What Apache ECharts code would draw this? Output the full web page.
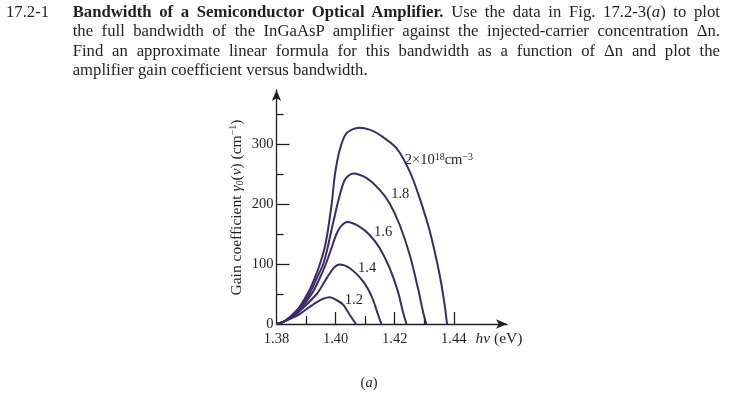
<!DOCTYPE html>
<html>
<head>
<meta charset="utf-8">
<script src="https://cdn.jsdelivr.net/npm/echarts@6/dist/echarts.min.js"></script>
<style>
  html, body { margin:0; padding:0; background:#fff; }
  #c { position:absolute; left:0; top:0; width:738px; height:395px; }
  #txt { position:absolute; left:0; top:2px; width:738px; font-family:'Liberation Serif', 'Times New Roman', serif;
         font-size:16.7px; line-height:19.3px; color:#231f20; }
  .ln { position:relative; margin-left:72.7px; width:647.3px; white-space:nowrap; text-align:justify; text-align-last:justify; }
  .num { position:absolute; left:-66.7px; top:0; }
</style>
</head>
<body>
<div id="c"></div>
<div id="txt">
  <div class="ln"><span class="num">17.2-1</span><b>Bandwidth of a Semiconductor Optical Amplifier.</b> Use the data in Fig. 17.2-3(<i>a</i>) to plot</div>
  <div class="ln">the full bandwidth of the InGaAsP amplifier against the injected-carrier concentration Δn.</div>
  <div class="ln">Find an approximate linear formula for this bandwidth as a function of Δn and plot the</div>
  <div class="ln" style="text-align-last:left">amplifier gain coefficient versus bandwidth.</div>
</div>
<script>
// photon energy hν (eV), gain coefficient γ0 (cm^-1), one array per carrier concentration
const curve20 = [[1.380,0],[1.3825,4],[1.3857,17],[1.388,30],[1.391,55],[1.3932,80],[1.3947,100],[1.3962,125],[1.3972,150],[1.3981,180],[1.3988,205],[1.3998,250],[1.4014,290],[1.4037,318],[1.408,327],[1.4115,324],[1.415,315],[1.4206,293],[1.4251,254],[1.4285,209],[1.4319,154],[1.4352,82],[1.4369,32],[1.4377,0]];
const curve18 = [[1.380,0],[1.3825,4],[1.3857,16],[1.388,28],[1.3911,50],[1.3935,75],[1.3958,100],[1.3972,125],[1.3983,150],[1.3997,180],[1.4009,205],[1.4031,240],[1.4059,251],[1.4105,243],[1.415,223],[1.4183,201],[1.4217,165],[1.4251,115],[1.4279,59],[1.4296,20],[1.4307,0]];
const curve16 = [[1.380,0],[1.3825,4],[1.3857,15],[1.388,25],[1.3919,50],[1.3945,75],[1.3967,100],[1.3985,125],[1.4003,150],[1.402,164],[1.404,170],[1.4082,162],[1.4116,148],[1.415,126],[1.4183,93],[1.4211,54],[1.4228,20],[1.424,0]];
const curve14 = [[1.380,0],[1.3825,4],[1.3857,13],[1.388,22],[1.3936,50],[1.3962,70],[1.3981,85],[1.3995,94],[1.4012,99],[1.4048,93],[1.4093,71],[1.4122,46],[1.4144,15],[1.4155,0]];
const curve12 = [[1.380,0],[1.3825,4],[1.3857,11],[1.388,17],[1.3902,25],[1.3935,36],[1.3958,42],[1.398,44.5],[1.4003,40],[1.4026,32],[1.4048,15],[1.4069,0]];
const curveNames = ['2.0', '1.8', '1.6', '1.4', '1.2'];
const labelPos = [[1.4234,273],[1.4188,216],[1.4130,153],[1.4076,93],[1.4031,39]];
const labelTexts = ['2×10{p|18}cm{p|−3}', '1.8', '1.6', '1.4', '1.2'];
const xLabelVals = [1.38, 1.40, 1.42, 1.44];
const xMajorTicks = [1.40, 1.42, 1.44];
const xMinorTicks = [1.39, 1.41, 1.43];
const yLabelVals = [0, 100, 200, 300];
const yMajorTicks = [100, 200, 300];
const yMinorTicks = [50, 150, 250, 350];

const FONT = 'Liberation Serif';
const INK = '#231f20';
const LINE = '#3b2b6c';
const chart = echarts.init(document.getElementById('c'), null, {renderer: 'canvas'});
const curves = [curve20, curve18, curve16, curve14, curve12];

const axisBase = { type: 'value', splitLine: {show: false} };
const option = {
  animation: false,
  grid: {left: 276.5, right: 231, top: 90, bottom: 71, containLabel: false},
  xAxis: [
    Object.assign({}, axisBase, {
      min: 1.38, max: 1.458, position: 'bottom',
      axisLine: {show: true, lineStyle: {color: INK, width: 1.3}, symbol: ['none', 'arrow'], symbolSize: [7, 11]},
      axisTick: {show: true, inside: true, length: 12, lineStyle: {color: INK, width: 1.3}, customValues: xMajorTicks},
      axisLabel: {show: true, margin: 8, fontFamily: FONT, fontSize: 14.5, color: INK, customValues: xLabelVals,
        formatter: v => v.toFixed(2)}
    }),
    Object.assign({}, axisBase, {
      min: 1.38, max: 1.458, position: 'bottom',
      axisLine: {show: false},
      axisTick: {show: true, inside: true, length: 8, lineStyle: {color: INK, width: 1.3}, customValues: xMinorTicks},
      axisLabel: {show: false}
    })
  ],
  yAxis: [
    Object.assign({}, axisBase, {
      min: 0, max: 390, position: 'left',
      axisLine: {show: true, lineStyle: {color: INK, width: 1.3}, symbol: ['none', 'arrow'], symbolSize: [7, 11]},
      axisTick: {show: true, inside: true, length: 13, lineStyle: {color: INK, width: 1.3}, customValues: yMajorTicks},
      axisLabel: {show: true, margin: 3, fontFamily: FONT, fontSize: 14.5, color: INK, customValues: yLabelVals}
    }),
    Object.assign({}, axisBase, {
      min: 0, max: 390, position: 'left',
      axisLine: {show: false},
      axisTick: {show: true, inside: true, length: 7, lineStyle: {color: INK, width: 1.3}, customValues: yMinorTicks},
      axisLabel: {show: false}
    })
  ],
  series: curves.map((d, i) => ({
    name: curveNames[i],
    type: 'line',
    xAxisIndex: 0, yAxisIndex: 0,
    data: d,
    showSymbol: false,
    smooth: 0.3,
    lineStyle: {color: LINE, width: 2},
    z: 5 - i,
    markPoint: {
      symbol: 'circle', symbolSize: 0, silent: true,
      data: [{coord: labelPos[i]}],
      label: {show: true, position: 'right', distance: 0, formatter: labelTexts[i],
        fontFamily: FONT, fontSize: 14.5, color: INK,
        rich: {p: {fontFamily: FONT, fontSize: 10, color: INK, verticalAlign: 'top', lineHeight: 10, padding: [0, 0, 7, 0]}}
      }
    }
  })),
  graphic: [
    {
      type: 'text', x: 237, y: 207.5, rotation: Math.PI / 2, z: 10,
      style: {
        text: 'Gain coefficient {i|γ}{s|0}({i|ν}) (cm{p|−1})',
        fontFamily: FONT, fontSize: 15.5, fill: INK, align: 'center', verticalAlign: 'middle',
        rich: {
          i: {fontFamily: FONT, fontSize: 15.5, fontStyle: 'italic', fill: INK},
          s: {fontFamily: FONT, fontSize: 10, fontStyle: 'italic', fill: INK, padding: [7, 0, 0, 0]},
          p: {fontFamily: FONT, fontSize: 10, fill: INK, padding: [0, 0, 7, 0]}
        }
      }
    },
    {
      type: 'text', x: 475.5, y: 339, z: 10,
      style: {
        text: '{i|hν} (eV)', fontFamily: FONT, fontSize: 15.5, fill: INK, align: 'left', verticalAlign: 'middle',
        rich: {i: {fontFamily: FONT, fontSize: 15.5, fontStyle: 'italic', fill: INK}}
      }
    },
    {
      type: 'text', x: 369, y: 383, z: 10,
      style: {
        text: '({i|a})', fontFamily: FONT, fontSize: 14.5, fill: INK, align: 'center', verticalAlign: 'middle',
        rich: {i: {fontFamily: FONT, fontSize: 14.5, fontStyle: 'italic', fill: INK}}
      }
    }
  ]
};
chart.setOption(option);
</script>
</body>
</html>
